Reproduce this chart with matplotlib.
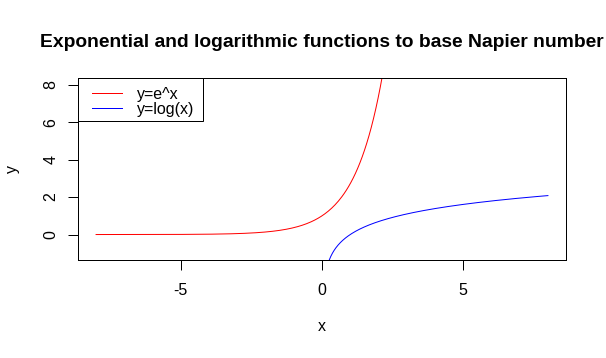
import numpy as np
import matplotlib
matplotlib.use('Agg')
import matplotlib.pyplot as plt
from matplotlib.patches import Rectangle
from matplotlib.lines import Line2D

plt.rcParams.update({
    'font.family': ['Liberation Sans', 'DejaVu Sans'],
    'font.size': 16,
    'axes.linewidth': 1.0,
    'xtick.major.width': 1.0, 'ytick.major.width': 1.0,
    'xtick.major.size': 9.6, 'ytick.major.size': 9.6,
})

# curve data: y = e^x over [-8, 8], y = log(x) over (0, 8]
x_exp = np.linspace(-8, 8, 400)
y_exp = np.exp(x_exp)
x_log = np.linspace(0.01, 8, 400)
y_log = np.log(x_log)

x_lim = (-8, 8)
y_lim = (-1, 8)
x_ticks = [-5, 0, 5]
y_ticks = [0, 2, 4, 6, 8]
title = 'Exponential and logarithmic functions to base Napier number'
labels = ['y=e^x', 'y=log(x)']
colors = ['red', 'blue']

W, H = 606, 358
fig = plt.figure(figsize=(W / 72, H / 72), dpi=72)
ax = fig.add_axes([78 / W, (H - 260) / H, (566 - 78) / W, (260 - 78) / H])

ax.plot(x_exp, y_exp, color=colors[0], lw=1)
ax.plot(x_log, y_log, color=colors[1], lw=1)

# R style 4% axis extension
xr = x_lim[1] - x_lim[0]; yr = y_lim[1] - y_lim[0]
ax.set_xlim(x_lim[0] - 0.04 * xr, x_lim[1] + 0.04 * xr)
ax.set_ylim(y_lim[0] - 0.04 * yr, y_lim[1] + 0.04 * yr)

ax.set_xticks(x_ticks)
ax.set_yticks(y_ticks)
ax.set_xticklabels([str(t) if t >= 0 else '-%d' % -t for t in x_ticks])
ax.tick_params(axis='x', pad=13)
ax.tick_params(axis='y', pad=10, labelrotation=90)
for lab in ax.get_yticklabels():
    lab.set_va('center')

ax.set_xlabel('x', labelpad=21.5)
ax.set_ylabel('y', labelpad=23)
ax.set_title(title, fontsize=19.2, fontweight='bold', pad=31)

# R-style legend box drawn in pixel positions (top-left corner of plot)
def fx(px): return px / W
def fy(py): return 1 - py / H

fig.add_artist(Rectangle((fx(78), fy(121)), fx(203) - fx(78), fy(78) - fy(121),
                         transform=fig.transFigure, facecolor='white',
                         edgecolor='black', lw=1, zorder=5))
for i, (lab, c) in enumerate(zip(labels, colors)):
    base = 99 + 15 * i
    fig.add_artist(Line2D([fx(92), fx(122)], [fy(base - 6.3)] * 2,
                          transform=fig.transFigure, color=c, lw=1, zorder=6))
    fig.text(fx(136.5), fy(base), lab, va='baseline', ha='left', fontsize=16, zorder=6)

fig.savefig('out.png', dpi=72)
